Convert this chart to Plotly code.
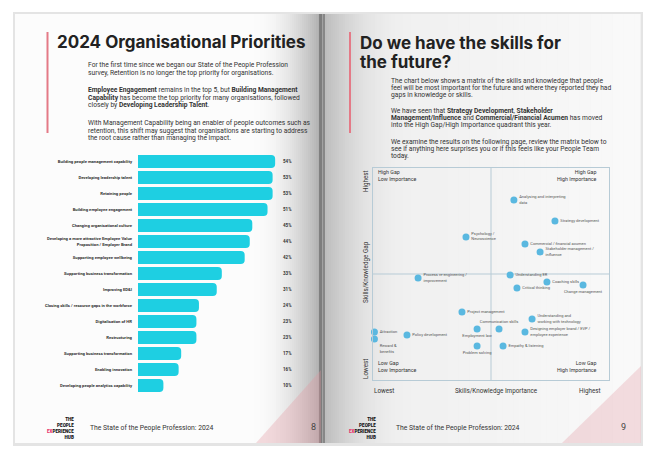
import plotly.graph_objects as go

W, H = 646, 455

def X(px):
    return px / W

def Y(py):
    return 1 - py / H

# ---------------- DATA ----------------
priority_labels = [
    "Building people management capability",
    "Developing leadership talent",
    "Retaining people",
    "Building employee engagement",
    "Changing organisational culture",
    "Developing a more attractive Employee Value<br>Proposition / Employer Brand",
    "Supporting employee wellbeing",
    "Supporting business transformation",
    "Improving ED&I",
    "Closing skills / resource gaps in the workforce",
    "Digitalisation of HR",
    "Restructuring",
    "Supporting business transformation",
    "Enabling innovation",
    "Developing people analytics capability",
]
priority_values = [54, 53, 53, 51, 45, 44, 42, 33, 31, 24, 23, 23, 17, 16, 10]

skill_names = [
    "Analysing and interpreting<br>data",
    "Strategy development",
    "Psychology /<br>Neuroscience",
    "Commercial / financial acumen",
    "Stakeholder management /<br>influence",
    "Process re-engineering /<br>improvement",
    "Understanding ER",
    "Coaching skills",
    "Change management",
    "Critical thinking",
    "Project management",
    "Understanding and<br>working with technology",
    "Communication skills",
    "Employment law",
    "Designing employer brand / EVP /<br>employee experience",
    "Empathy & listening",
    "Problem solving",
    "Attraction",
    "Reward &<br>benefits",
    "Policy development",
]
skill_importance = [59.7, 77.1, 39.4, 64.4, 70.8, 19.1, 58.1, 73.7, 89.0, 61.0,
                    37.7, 67.4, 53.4, 44.1, 64.4, 55.1, 44.1, 0.6, 0.6, 14.4]
skill_gap = [84.9, 75.0, 67.5, 64.2, 60.4, 48.1, 49.5, 46.2, 44.8, 43.4,
             32.1, 28.8, 24.1, 24.1, 22.6, 16.0, 16.0, 22.6, 19.3, 21.2]
skill_textpos = ["middle right", "middle right", "middle right", "middle right", "middle right",
                 "middle right", "middle right", "middle right", "bottom center", "middle right",
                 "middle right", "middle right", "top center", "bottom center", "middle right",
                 "middle right", "bottom center", "middle right", "bottom right", "middle right"]

left_paragraphs = [
    ["For the first time since we began our State of the People Profession",
     "survey, Retention is no longer the top priority for organisations."],
    ["<b>Employee Engagement</b> remains in the top 5, but <b>Building Management</b>",
     "<b>Capability</b> has become the top priority for many organisations, followed",
     "closely by <b>Developing Leadership Talent</b>."],
    ["With Management Capability being an enabler of people outcomes such as",
     "retention, this shift may suggest that organisations are starting to address",
     "the root cause rather than managing the impact."],
]
right_paragraphs = [
    ["The chart below shows a matrix of the skills and knowledge that people",
     "feel will be most important for the future and where they reported they had",
     "gaps in knowledge or skills."],
    ["We have seen that <b>Strategy Development</b>, <b>Stakeholder</b>",
     "<b>Management/Influence</b> and <b>Commercial/Financial Acumen</b> has moved",
     "into the High Gap/High Importance quadrant this year."],
    ["We examine the results on the following page, review the matrix below to",
     "see if anything here surprises you or if this feels like your People Team",
     "today."],
]

BAR_COLOR = "#1ecfe2"
DOT_COLOR = "#5ab8e0"
TXT = "#333333"
FONT = "Roboto"

fig = go.Figure()

# ---------------- bar chart (left page) ----------------
fig.add_trace(go.Bar(
    x=priority_values,
    y=list(range(len(priority_values))),
    orientation="h",
    marker=dict(color=BAR_COLOR, line=dict(width=0)),
    width=0.8,
    xaxis="x", yaxis="y",
    hoverinfo="skip",
))

# ---------------- scatter matrix (right page) ----------------
fig.add_trace(go.Scatter(
    x=skill_importance,
    y=skill_gap,
    mode="markers+text",
    text=skill_names,
    textposition=skill_textpos,
    textfont=dict(size=4, color="#555555", family=FONT),
    marker=dict(size=7, color=DOT_COLOR, line=dict(width=0)),
    xaxis="x2", yaxis="y2",
    hoverinfo="skip",
    cliponaxis=False,
))

shapes = []

def rect(x0, y0, x1, y1, color, layer="below"):
    shapes.append(dict(type="rect", xref="paper", yref="paper",
                       x0=X(x0), x1=X(x1), y0=Y(y1), y1=Y(y0),
                       fillcolor=color, line=dict(width=0), layer=layer))

# booklet base
rect(13, 12, 643, 446, "#e4e4e4")
rect(15, 14, 322, 443, "#fcfcfc")
rect(323, 14, 641, 443, "#f1f1f1")

# right page gentle lightening toward the right
for i in range(40):
    x0 = 420 + i * 5.5
    a = 0.6 * (i / 39)
    rect(x0, 14, x0 + 5.5, 443, f"rgba(255,255,255,{a:.3f})")

# left page shadow toward spine
n = 36
for i in range(n):
    t = (i + 1) / n
    x0 = 250 + i * 2
    a = 0.42 * t ** 2.2
    rect(x0, 14, x0 + 2, 443, f"rgba(60,60,60,{a:.3f})")
# right page shadow from spine
n = 50
for i in range(n):
    t = i / n
    x0 = 323 + i * 2
    a = 0.30 * (1 - t) ** 2.5
    rect(x0, 14, x0 + 2, 443, f"rgba(60,60,60,{a:.3f})")
# spine crease
rect(319, 14, 325, 443, "rgba(40,40,40,0.35)")

# pink corner triangles
def tri(pts, color):
    p = "M " + " L ".join(f"{X(a):.5f},{Y(b):.5f}" for a, b in pts) + " Z"
    shapes.append(dict(type="path", xref="paper", yref="paper", path=p,
                       fillcolor=color, line=dict(width=0), layer="below"))

tri([(256, 443), (321, 370), (321, 443)], "rgba(226,150,160,0.32)")
tri([(562, 443), (641, 366), (641, 443)], "rgba(226,150,160,0.30)")

# pink title bars
rect(46.5, 32, 48.5, 133, "#e47a87")
rect(349, 32, 351, 133, "#e47a87")

# scatter quadrant midlines
shapes.append(dict(type="line", xref="x2", yref="y2", x0=50, x1=50, y0=0, y1=100,
                   line=dict(color="#b7cbd6", width=1), layer="below"))
shapes.append(dict(type="line", xref="x2", yref="y2", x0=0, x1=100, y0=50, y1=50,
                   line=dict(color="#b7cbd6", width=1), layer="below"))

annotations = []

def ann(x, y, text, size, color=TXT, xanchor="left", yanchor="middle", align="left",
        weight="normal", family=FONT, textangle=0):
    annotations.append(dict(x=X(x), y=Y(y), xref="paper", yref="paper", text=text,
                            showarrow=False, xanchor=xanchor, yanchor=yanchor, align=align,
                            textangle=textangle,
                            font=dict(size=size, color=color, family=family, weight=weight)))

# titles
ann(55, 42, "2024 Organisational Priorities", 17, "#222222", weight="bold", family="Inter")
ann(358, 43, "Do we have the skills for", 17, "#222222", weight="bold", family="Inter")
ann(358, 62, "the future?", 17, "#222222", weight="bold", family="Inter")

# paragraphs, one annotation per printed line
left_line_y = [[65, 72.5], [90, 97.5, 105], [123, 130.5, 138]]
for para, ys in zip(left_paragraphs, left_line_y):
    for line, yy in zip(para, ys):
        ann(86, yy, line, 6.7)

right_line_y = [[81, 88, 95], [111, 118, 125], [142, 149, 156]]
for para, ys in zip(right_paragraphs, right_line_y):
    for line, yy in zip(para, ys):
        ann(389, yy, line, 6.7)

# bar value labels
for i, v in enumerate(priority_values):
    annotations.append(dict(x=X(281), y=i, xref="paper", yref="y", text=f"{v}%",
                            showarrow=False, xanchor="left", yanchor="middle",
                            font=dict(size=4.5, color=TXT, family=FONT, weight="bold")))

# quadrant labels
ann(376, 176, "High Gap<br>Low Importance", 5.3)
ann(599, 176, "High Gap<br>High Importance", 5.3, xanchor="right", align="right")
ann(376, 366, "Low Gap<br>Low Importance", 5.3)
ann(599, 366, "Low Gap<br>High Importance", 5.3, xanchor="right", align="right")

# axis captions
ann(384, 391, "Lowest", 6.3, xanchor="center")
ann(496, 391, "Skills/Knowledge Importance", 6.3, xanchor="center")
ann(590, 391, "Highest", 6.3, xanchor="center")
ann(366, 181, "Highest", 6.3, xanchor="center", textangle=-90)
ann(366, 272, "Skills/Knowledge Gap", 6.3, xanchor="center", textangle=-90)
ann(366, 369, "Lowest", 6.3, xanchor="center", textangle=-90)

# footers
logo = ("THE<br>PEOPLE<br><span style='color:#e8336d'>EX</span>PERIENCE<br>HUB")
ann(76, 428, logo, 4.6, "#111111", xanchor="right", align="right", weight=900)
ann(378, 428, logo, 4.6, "#111111", xanchor="right", align="right", weight=900)
ann(88, 428, "The State of the People Profession: 2024", 6.8)
ann(394, 428, "The State of the People Profession: 2024", 6.8)
ann(313, 427, "8", 9, "#444444", xanchor="center")
ann(623, 427, "9", 9, "#444444", xanchor="center")

fig.update_layout(
    width=W, height=H, autosize=False,
    margin=dict(l=0, r=0, t=0, b=0),
    paper_bgcolor="#ffffff",
    plot_bgcolor="rgba(0,0,0,0)",
    showlegend=False,
    barcornerradius=4,
    shapes=shapes,
    annotations=annotations,
    xaxis=dict(domain=[X(138), X(138 + 60 * 2.54)], range=[0, 60], visible=False,
               fixedrange=True),
    yaxis=dict(domain=[Y(393.5), Y(153.5)], range=[14.5, -0.5],
               tickvals=list(range(len(priority_labels))), ticktext=priority_labels,
               tickfont=dict(size=4.2, color=TXT, family=FONT, weight="bold"),
               showgrid=False, zeroline=False, showline=False, ticks="",
               ticklabelstandoff=5, fixedrange=True),
    xaxis2=dict(domain=[X(373), X(609)], range=[0, 100], anchor="y2",
                showgrid=False, zeroline=False, showticklabels=False, ticks="",
                showline=True, mirror=True, linecolor="#b7cbd6", linewidth=1),
    yaxis2=dict(domain=[Y(380), Y(168)], range=[0, 100], anchor="x2",
                showgrid=False, zeroline=False, showticklabels=False, ticks="",
                showline=True, mirror=True, linecolor="#b7cbd6", linewidth=1),
)

fig.write_html("out.html")
